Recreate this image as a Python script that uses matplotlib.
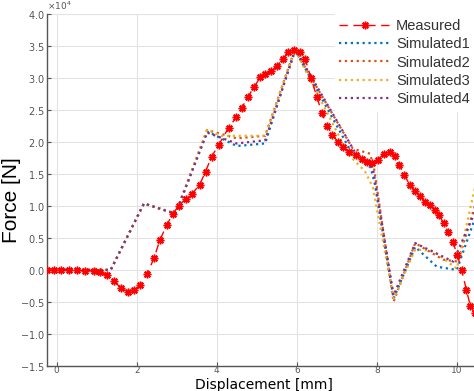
import numpy as np
import matplotlib
matplotlib.use("Agg")
import matplotlib.pyplot as plt
from matplotlib.ticker import ScalarFormatter

# force values are in units of 1e4 N
meas_x = [-0.25, -0.07, 0.12, 0.31, 0.5, 0.72, 0.92, 1.08, 1.25, 1.43, 1.61, 1.78,
          1.93, 2.09, 2.26, 2.43, 2.58, 2.75, 2.9, 3.05, 3.22, 3.38, 3.57, 3.72,
          3.87, 4.05, 4.3, 4.49, 4.63, 4.78, 4.94, 5.09, 5.21, 5.35, 5.5, 5.65,
          5.78, 5.94, 6.08, 6.21, 6.36, 6.5, 6.63, 6.75, 6.89, 7.02, 7.16, 7.31,
          7.48, 7.62, 7.75, 7.87, 8.02, 8.18, 8.33, 8.45, 8.56, 8.68, 8.83, 8.95,
          9.09, 9.2, 9.33, 9.45, 9.56, 9.67, 9.78, 9.9, 10.01, 10.12, 10.24,
          10.34, 10.45]
meas_y = [0, 0, 0, 0, 0, -0.01, -0.01, -0.04, -0.08, -0.17, -0.29, -0.34,
          -0.32, -0.24, -0.06, 0.18, 0.47, 0.7, 0.88, 1.0, 1.11, 1.19, 1.33, 1.54,
          1.77, 1.96, 2.23, 2.39, 2.54, 2.71, 2.87, 3.02, 3.07, 3.12, 3.19, 3.3,
          3.41, 3.45, 3.42, 3.3, 3.0, 2.71, 2.46, 2.26, 2.12, 2.01, 1.93, 1.85,
          1.8, 1.74, 1.69, 1.67, 1.72, 1.82, 1.84, 1.78, 1.65, 1.49, 1.33, 1.23,
          1.15, 1.07, 1.02, 0.94, 0.86, 0.73, 0.6, 0.44, 0.24, 0.0, -0.31,
          -0.57, -0.68]

sim1_x = [-0.25, 1.35, 2.18, 2.97, 3.76, 4.5, 5.21, 5.95, 7.35, 7.85, 7.95, 8.42, 8.96, 9.5, 10.0, 10.45]
sim1_y = [0, 0, 1.04, 0.88, 2.17, 1.94, 1.98, 3.45, 1.86, 1.6, 1.35, -0.45, 0.36, 0.05, 0.0, 0.8]

sim2_x = [-0.25, 1.35, 2.18, 2.97, 3.76, 4.5, 5.21, 5.95, 7.4, 7.83, 7.93, 8.42, 8.96, 9.66, 10.03, 10.45]
sim2_y = [0, 0, 1.04, 0.88, 2.19, 2.06, 2.1, 3.45, 1.9, 1.82, 1.6, -0.5, 0.42, 0.16, 0.13, 1.0]

sim3_x = [-0.25, 1.35, 2.18, 2.97, 3.76, 4.1, 5.21, 5.95, 7.3, 7.7, 7.9, 8.42, 8.96, 9.4, 10.0, 10.45]
sim3_y = [0, 0, 1.04, 0.88, 2.2, 2.1, 2.1, 3.45, 1.8, 1.55, 1.3, -0.45, 0.32, 0.3, 0.02, 1.28]

sim4_x = [-0.25, 1.35, 2.18, 2.97, 3.76, 4.5, 5.21, 5.97, 7.45, 7.9, 7.97, 8.42, 8.96, 9.91, 10.45]
sim4_y = [0, 0, 1.04, 0.88, 2.15, 1.98, 2.03, 3.45, 1.85, 1.6, 1.35, -0.4, 0.42, 0.13, 0.9]

scale = 1e4

fig = plt.figure(figsize=(4.74, 3.91), dpi=100)
ax = fig.add_axes([0.0985, 0.0647, 0.9015, 0.8983])

ax.plot(meas_x, np.array(meas_y) * scale, color="#ff0000", linestyle=(0, (6, 4)),
        linewidth=1.0, marker=(8, 2, 0), markersize=5.5, markeredgewidth=1.1,
        label="Measured", zorder=5)
ax.plot(sim1_x, np.array(sim1_y) * scale, color="#0072BD", linestyle=":", linewidth=1.6, label="Simulated1")
ax.plot(sim2_x, np.array(sim2_y) * scale, color="#D95319", linestyle=":", linewidth=1.6, label="Simulated2")
ax.plot(sim3_x, np.array(sim3_y) * scale, color="#EDB120", linestyle=":", linewidth=1.6, label="Simulated3")
ax.plot(sim4_x, np.array(sim4_y) * scale, color="#7E2F8E", linestyle=":", linewidth=1.6, label="Simulated4")

ax.set_xlim(-0.25, 10.43)
ax.set_ylim(-1.5 * scale, 4 * scale)
ax.set_xticks([0, 2, 4, 6, 8, 10])
ax.set_yticks(np.arange(-1.5, 4.01, 0.5) * scale)

fmt = ScalarFormatter(useMathText=True)
fmt.set_powerlimits((0, 0))
ax.yaxis.set_major_formatter(fmt)
ax.yaxis.get_offset_text().set_fontsize(6.5)
ax.yaxis.get_offset_text().set_color("#555555")

ax.grid(True, color="#e3e3e3", linewidth=0.8)
ax.set_axisbelow(True)
for side in ["top", "right"]:
    ax.spines[side].set_visible(False)
for side in ["left", "bottom"]:
    ax.spines[side].set_color("#555555")
    ax.spines[side].set_linewidth(1.0)
ax.tick_params(direction="in", length=3, colors="#555555", labelsize=7, width=0.8, pad=1.5)
ax.tick_params(axis="x", pad=0.3, labelsize=6.5)

ax.set_xlabel("Displacement [mm]", fontsize=10, family="DejaVu Sans")
ax.set_ylabel("Force [N]", fontsize=15, family="Liberation Sans")
ax.xaxis.set_label_coords(0.508, -0.036)
ax.yaxis.set_label_coords(-0.06, 0.47)

leg = ax.legend(loc="upper right", handlelength=3.6, handletextpad=0.3, numpoints=1,
                labelspacing=0.3, borderaxespad=0.0, borderpad=0.3, frameon=True,
                fancybox=False, framealpha=1.0,
                prop={"family": "Liberation Sans", "size": 10.5})
leg.get_frame().set_edgecolor("white")
for t in leg.get_texts():
    t.set_color("#333333")

fig.savefig("out.png", dpi=100)
